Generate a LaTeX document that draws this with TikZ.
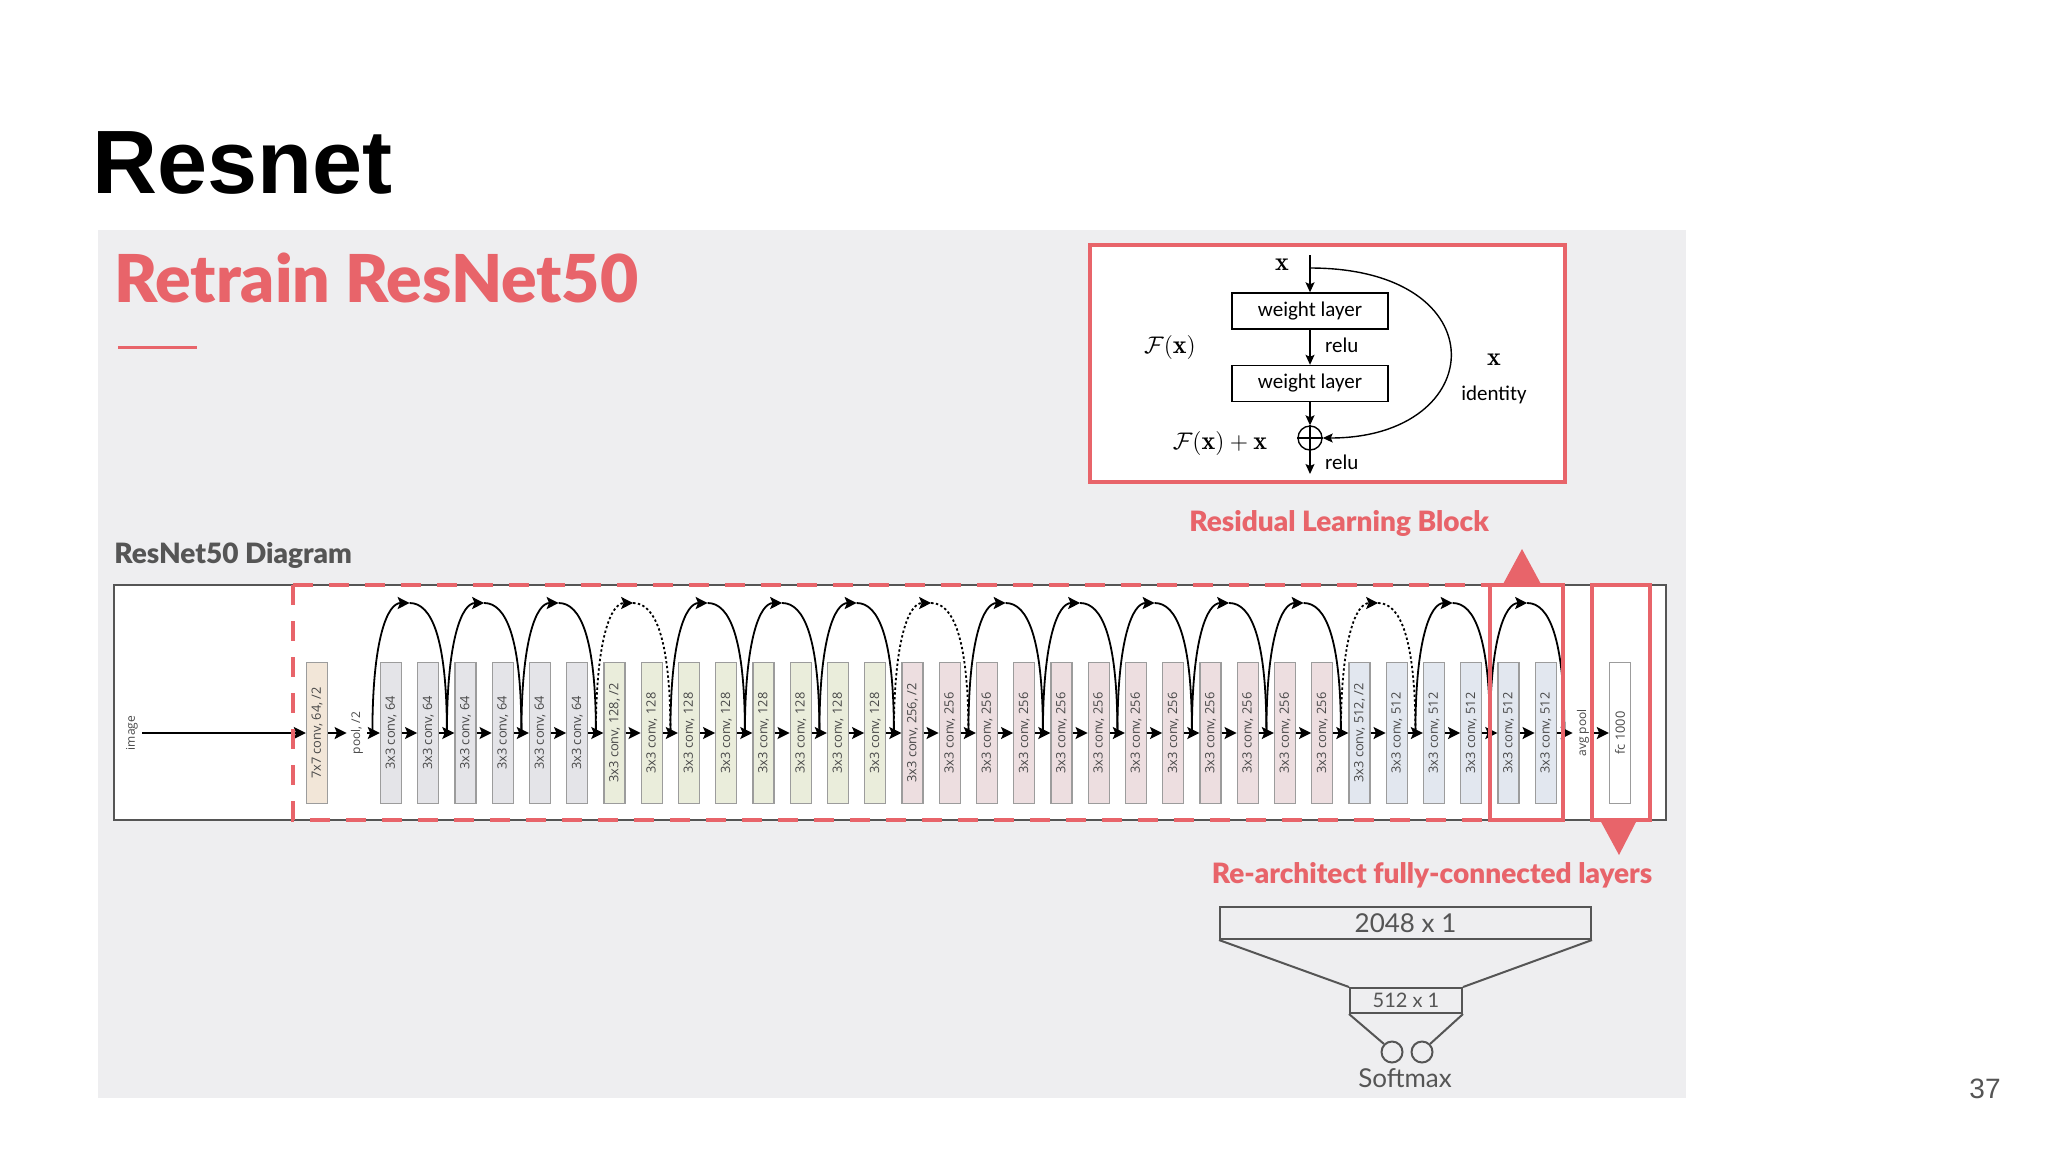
\documentclass[tikz,border=0pt]{standalone}
\usepackage{amsmath}
\usepackage{amssymb}
\usepackage{fontspec}
\usepackage{tikz}
\usetikzlibrary{arrows.meta,positioning}

\newfontfamily\slidefont{Liberation Sans}
\newfontfamily\headfont{Lato}[BoldFont={Lato Black}]
\newfontfamily\layerfont{Open Sans}
\newfontfamily\blockfont{Carlito}

\definecolor{accent}{HTML}{E8646A}
\definecolor{panelgray}{HTML}{EEEEF0}
\definecolor{darktext}{HTML}{555555}
\definecolor{layertext}{HTML}{474747}
\definecolor{boxedge}{HTML}{9C9C9C}
\definecolor{c7}{HTML}{F2E6D8}
\definecolor{c64}{HTML}{E4E4E8}
\definecolor{c128}{HTML}{EAEDDB}
\definecolor{c256}{HTML}{EDDEE0}
\definecolor{c512}{HTML}{E2E7EF}

\tikzset{
    layer/.style={draw=boxedge, line width=0.7pt, rotate=90, minimum width=70.5pt, minimum height=10.5pt, inner sep=0pt, font=\layerfont\fontsize{6.4}{7}\selectfont, text=layertext},
    smalltxt/.style={rotate=90, inner sep=0pt, minimum height=10pt, font=\layerfont\fontsize{6}{7}\selectfont, text=layertext},
    flow/.style={-{Stealth[length=6pt,width=6pt,inset=1.2pt]}, line width=0.9pt},
    skipline/.style={line width=0.9pt},
    skip/.style={skipline, -{Stealth[length=6pt,width=6pt,inset=1.2pt]}},
    redframe/.style={draw=accent, line width=2pt},
    wlayer/.style={draw, line width=0.7pt, minimum width=78pt, minimum height=18pt, inner sep=0pt, font=\blockfont\fontsize{10.5}{12}\selectfont},
    blocktxt/.style={font=\blockfont\fontsize{10.5}{12}\selectfont},
    mathlbl/.style={font=\fontsize{13}{15}\selectfont},
    barrow/.style={-{Stealth[length=5pt,width=4.5pt,inset=1pt]}, line width=0.7pt},
    heading/.style={anchor=base, inner sep=0pt, font=\headfont\bfseries\fontsize{14}{16}\selectfont, text=accent},
    fcbox/.style={draw=darktext, line width=1pt, inner sep=0pt, text=darktext},
}

\begin{document}
\begin{tikzpicture}[x=0.5pt, y=-0.5pt]
        \useasboundingbox (0,0) rectangle (2048,1152);
        \fill[white] (0,0) rectangle (2048,1152);
        \fill[panelgray] (98,230) rectangle (1686,1098);

        \node (title) [anchor=base west, inner sep=0pt, font=\slidefont\bfseries\fontsize{45}{50}\selectfont] at (92,193) {Resnet};
        \node (retrain) [anchor=base west, inner sep=0pt, font=\headfont\bfseries\fontsize{33}{38}\selectfont, text=accent] at (114,302) {Retrain ResNet50};
        \draw[accent, line width=1.5pt] (118,347) -- (197,347);
        \node (diaglbl) [anchor=base west, inner sep=0pt, font=\headfont\bfseries\fontsize{14}{16}\selectfont, text=darktext] at (114,563) {ResNet50 Diagram};
        \node (blocklbl) [heading] at (1339,531) {Residual Learning Block};
        \node (fclbl) [heading] at (1432,883) {Re-architect fully-connected layers};
        \node (pnum) [anchor=base, inner sep=0pt, font=\slidefont\fontsize{14}{16}\selectfont, text=darktext] at (1985,1098) {37};

        \node (blockframe) [redframe, fill=white, minimum width=237.5pt, minimum height=118.5pt, inner sep=0pt] at (1327.5,363.5) {};
        \node (wl1) [wlayer] at (1310,311) {weight layer};
        \node (wl2) [wlayer] at (1310,383.5) {weight layer};
        \node (plus) [circle, draw, line width=0.7pt, minimum size=12pt, inner sep=0pt] at (1310,438) {};
        \draw[line width=0.7pt] (plus.north) -- (plus.south) (plus.west) -- (plus.east);
        \coordinate (xin) at (1310,255);
        \coordinate (br) at (1310,268);
        \coordinate (yout) at (1310,474);
        \draw[barrow] (xin) -- (wl1);
        \draw[barrow] (wl1) -- (wl2);
        \draw[barrow] (wl2) -- (plus);
        \draw[barrow] (plus) -- (yout);
        \draw[barrow] (br) .. controls (1500,268) and (1490,438) .. (plus);
        \node (xtop) [mathlbl] at (1282,265) {$\mathbf{x}$};
        \node (relu1) [blocktxt, anchor=west] at (1318,345) {relu};
        \node (relu2) [blocktxt, anchor=west] at (1318,462) {relu};
        \node (fx) [mathlbl] at (1170,347) {$\mathcal{F}(\mathbf{x})$};
        \node (xid) [mathlbl] at (1494,360) {$\mathbf{x}$};
        \node (idlbl) [blocktxt, below=3pt of xid] {identity};
        \node (fxx) [mathlbl] at (1220,443) {$\mathcal{F}(\mathbf{x}) + \mathbf{x}$};

        \draw[fill=white, draw=darktext, line width=1pt] (114,585) rectangle (1666,820);

        \node (img) [smalltxt] at (132,733) {image};
        \node (L0) [layer, fill=c7] at (317,733) {7x7 conv, 64, /2};
        \node (pool) [smalltxt] at (357,733) {pool, /2};
        \foreach \i in {1,...,6}
            \node (L\i) [layer, fill=c64] at ({391+37.25*(\i-1)},733) {3x3 conv, 64};
        \node (L7) [layer, fill=c128] at ({391+37.25*6},733) {3x3 conv, 128, /2};
        \foreach \i in {8,...,14}
            \node (L\i) [layer, fill=c128] at ({391+37.25*(\i-1)},733) {3x3 conv, 128};
        \node (L15) [layer, fill=c256] at ({391+37.25*14},733) {3x3 conv, 256, /2};
        \foreach \i in {16,...,26}
            \node (L\i) [layer, fill=c256] at ({391+37.25*(\i-1)},733) {3x3 conv, 256};
        \node (L27) [layer, fill=c512] at ({391+37.25*26},733) {3x3 conv, 512, /2};
        \foreach \i in {28,...,32}
            \node (L\i) [layer, fill=c512] at ({391+37.25*(\i-1)},733) {3x3 conv, 512};
        \node (avg) [smalltxt] at (1583,733) {avg pool};
        \node (fc) [layer, fill=white] at (1620,733) {fc 1000};

        \draw[flow] (img) -- (L0);
        \draw[flow] (L0) -- (pool);
        \draw[flow] (pool) -- (L1);
        \foreach \i [evaluate=\i as \j using int(\i+1)] in {1,...,31}
            \draw[flow] (L\i) -- (L\j);
        \draw[flow] (L32) -- (avg);
        \draw[flow] (avg) -- (fc);

        \foreach \i in {1,...,33}
            \coordinate (g\i) at ({391+37.25*(\i-1)-18.6},733);
        \foreach \k in {1,2,3,5,6,7,9,10,11,12,13,15,16} {
            \pgfmathtruncatemacro{\s}{2*\k-1}
            \pgfmathtruncatemacro{\e}{2*\k+1}
            \coordinate (a\k) at ({391+74.5*(\k-1)+18.65},603);
            \draw[skip] (g\s) .. controls +(0,-95) and +(-22,0) .. (a\k);
            \draw[skipline] (a\k) .. controls +(22,0) and +(0,-95) .. (g\e);
        }
        \foreach \k in {4,8,14} {
            \pgfmathtruncatemacro{\s}{2*\k-1}
            \pgfmathtruncatemacro{\e}{2*\k+1}
            \coordinate (a\k) at ({391+74.5*(\k-1)+18.65},603);
            \draw[skip, dash pattern=on 1.2pt off 1.2pt] (g\s) .. controls +(0,-95) and +(-22,0) .. (a\k);
            \draw[skipline, dash pattern=on 1.2pt off 1.2pt] (a\k) .. controls +(22,0) and +(0,-95) .. (g\e);
        }

        \draw[accent, line width=2pt, dash pattern=on 10pt off 8pt] (293,585) rectangle (1490,820);
        \draw[redframe] (1490,585) rectangle (1563,820);
        \draw[redframe] (1592,585) rectangle (1650,820);
        \fill[accent] (1502,586) -- (1542,586) -- (1522,549) -- cycle;
        \fill[accent] (1600,820) -- (1637,820) -- (1619,855) -- cycle;

        \node (fcbig) [fcbox, minimum width=185.5pt, minimum height=16pt, font=\headfont\fontsize{13}{15}\selectfont] at (1405.5,923) {2048 x 1};
        \node (fcsmall) [fcbox, minimum width=56pt, minimum height=12.5pt, font=\headfont\fontsize{10}{12}\selectfont] at (1406,1000.5) {512 x 1};
        \draw[darktext, line width=1pt] (fcbig.south west) -- (fcsmall.north west);
        \draw[darktext, line width=1pt] (fcbig.south east) -- (fcsmall.north east);
        \node (sm1) [circle, draw=darktext, line width=1pt, minimum size=10.5pt, inner sep=0pt] at (1392,1052) {};
        \node (sm2) [circle, draw=darktext, line width=1pt, minimum size=10.5pt, inner sep=0pt] at (1422,1052) {};
        \draw[darktext, line width=1pt] (fcsmall.south west) -- (sm1.north west);
        \draw[darktext, line width=1pt] (fcsmall.south east) -- (sm2.north east);
        \node (smlbl) [text=darktext, font=\headfont\fontsize{13}{15}\selectfont] at (1405,1078) {Softmax};
\end{tikzpicture}
\end{document}
